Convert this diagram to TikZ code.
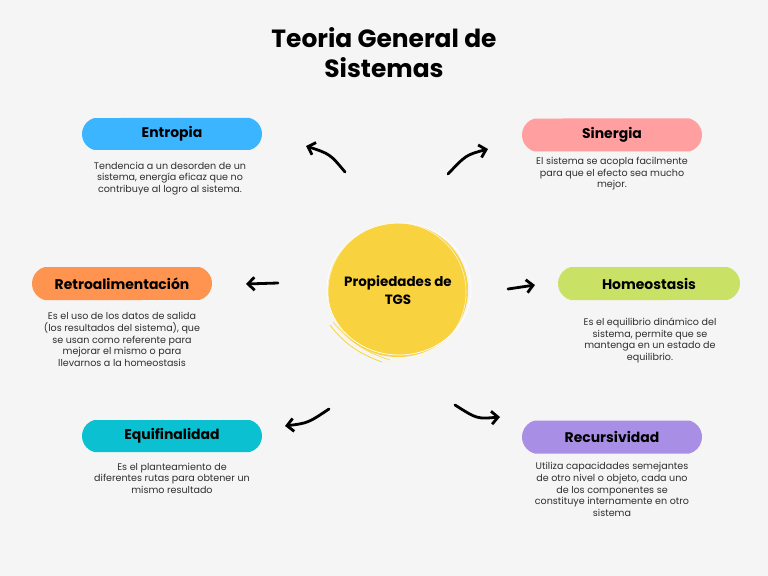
\documentclass[tikz,border=0pt]{standalone}
\usepackage{fontspec}
\setmainfont{Poppins}
\usetikzlibrary{arrows.meta,shapes.misc}
\definecolor{bg}{HTML}{F5F5F5}
\definecolor{cblue}{HTML}{3BB5FF}
\definecolor{cpink}{HTML}{FF9F9F}
\definecolor{corange}{HTML}{FF9450}
\definecolor{clime}{HTML}{C9E265}
\definecolor{cteal}{HTML}{0BC0D0}
\definecolor{cpurple}{HTML}{A98EE6}
\definecolor{cyellow}{HTML}{F8D33F}
\definecolor{ctext}{HTML}{2E2E2E}
\tikzset{
  blob/.style={rounded rectangle, rounded rectangle arc length=150, fill=#1, minimum width=180bp, minimum height=32bp, inner sep=0pt,
    font=\fontsize{14}{16}\selectfont\bfseries, text=black},
  desc/.style={align=center, font=\fontsize{9.6}{11.6}\selectfont, text=ctext, inner sep=0pt},
  arr/.style={line width=2.8bp, line cap=round, -{Straight Barb[length=6.5bp,width=13bp,line width=2.8bp]}},
}
\begin{document}
\begin{tikzpicture}[x=1bp,y=-1bp]
\fill[bg] (0,0) rectangle (768,576);
\useasboundingbox (0,0) rectangle (768,576);

\node[align=center, font=\fontsize{25}{30}\selectfont\bfseries, text=black] (title) at (384,53) {Teoria General de\\Sistemas};

% center circle
\fill[cyellow] (398,290) ellipse [x radius=70, y radius=67];
\draw[white, line width=0.7bp] (399,289) ellipse [x radius=72, y radius=66];
\draw[white!80!cyellow, line width=0.6bp] (397,292) ellipse [x radius=69, y radius=69];
\draw[cyellow, line width=0.8bp] (330,325) .. controls (345,345) and (362,355) .. (382,362);
\draw[cyellow, line width=0.6bp] (333,322) .. controls (350,342) and (365,352) .. (390,360);
\node[align=center, font=\fontsize{13.5}{18}\selectfont\bfseries, text=black] (center) at (398,290) {Propiedades de\\TGS};

% blobs
\node[blob=cblue, minimum width=180bp] (entropia) at (172,134) {Entropia};
\node[desc] (dentropia) at (170,178.5) {Tendencia a un desorden de un\\sistema, energía eficaz que no\\contribuye al logro al sistema.};

\node[blob=cpink, minimum width=180bp, minimum height=33bp] (sinergia) at (612,135) {Sinergia};
\node[desc] (dsinergia) at (612,174) {El sistema se acopla facilmente\\para que el efecto sea mucho\\mejor.};

\node[blob=corange, minimum width=180bp, minimum height=33bp] (retro) at (122,283.5) {Retroalimentación};
\node[desc] (dretro) at (122,339.5) {Es el uso de los datos de salida\\(los resultados del sistema), que\\se usan como referente para\\mejorar el mismo o para\\llevarnos a la homeostasis};

\node[blob=clime, minimum width=182bp, minimum height=33bp] (homeo) at (649,283.5) {Homeostasis};
\node[desc] (dhomeo) at (650,340.5) {Es el equilibrio dinámico del\\sistema, permite que se\\mantenga en un estado de\\equilibrio.};

\node[blob=cteal, minimum width=180bp] (equi) at (172,436) {Equifinalidad};
\node[desc] (dequi) at (172,478) {Es el planteamiento de\\diferentes rutas para obtener un\\mismo resultado};

\node[blob=cpurple, minimum width=180bp, minimum height=33bp] (recur) at (612,437) {Recursividad};
\node[desc] (drecur) at (612,489.5) {Utiliza capacidades semejantes\\de otro nivel o objeto, cada uno\\de los componentes se\\constituye internamente en otro\\sistema};

% arrows
\coordinate (a1s) at (345,172); \coordinate (a1e) at (306,146);
\coordinate (a2s) at (448,174); \coordinate (a2e) at (488,149);
\coordinate (a3s) at (278,283); \coordinate (a3e) at (246,284);
\coordinate (a4s) at (508,289); \coordinate (a4e) at (535,285);
\coordinate (a5s) at (329,409); \coordinate (a5e) at (285,426);
\coordinate (a6s) at (455,405); \coordinate (a6e) at (500,417);
\draw[arr] (a1s) .. controls (330,154) .. (a1e);
\draw[arr] (a2s) .. controls (466,155) .. (a2e);
\draw[arr] (a3s) -- (a3e);
\draw[arr] (a4s) -- (a4e);
\draw[arr] (a5s) .. controls (308,423) .. (a5e);
\draw[arr] (a6s) .. controls (477,419) .. (a6e);
\end{tikzpicture}
\end{document}
